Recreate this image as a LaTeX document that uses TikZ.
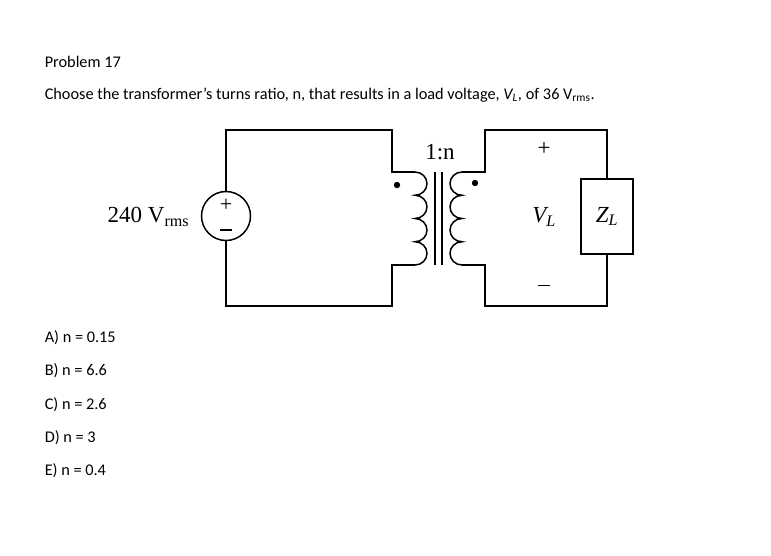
\documentclass[tikz,border=0pt]{standalone}
\usepackage{fontspec}
\setmainfont{Carlito}
\newfontfamily\tms{Liberation Serif}
\begin{document}
\begin{tikzpicture}[x=1pt,y=-1pt,line width=1.5pt,
  txt/.style={anchor=west,inner sep=0,font=\fontsize{16.3}{18}\selectfont},
  ctxt/.style={inner sep=0,font=\tms\fontsize{23}{25}\selectfont}]
\useasboundingbox[fill=white] (0,0) rectangle (771,555);
\node[txt] (t1) at (44,62) {Problem 17};
\node[txt] (t2) at (44,95) {Choose the transformer's turns ratio, n, that results in a load voltage, \textit{V\textsubscript{L}}, of 36 V\textsubscript{rms}.};
\node[txt] (a) at (44,338) {A) n = 0.15};
\node[txt] (b) at (44,371) {B) n = 6.6};
\node[txt] (c) at (44,405) {C) n = 2.6};
\node[txt] (d) at (44,438) {D) n = 3};
\node[txt] (e) at (44,471) {E) n = 0.4};
% source
\node[circle,draw,minimum size=49,inner sep=0] (src) at (226,216) {};
\node[inner sep=0,font=\tms\fontsize{22}{22}\selectfont] at (226,205) {+};
\draw[line width=1.2pt] (220,230) -- (232,230);
\node[ctxt,anchor=east] (vs) at (190,217) {240 V\textsubscript{rms}};
% primary
\draw (src.north) -- (226,130) -- (392,130) -- (392,172) -- (415,172);
\draw (src.south) -- (226,306) -- (392,306) -- (392,265) -- (415,265);
\draw (415,172) arc[start angle=-90,end angle=90,x radius=12,y radius=11.625]
  arc[start angle=-90,end angle=90,x radius=12,y radius=11.625]
  arc[start angle=-90,end angle=90,x radius=12,y radius=11.625]
  arc[start angle=-90,end angle=90,x radius=12,y radius=11.625];
% core
\draw[line width=1.2pt] (435,172) -- (435,265) (442,172) -- (442,265);
% secondary
\draw (462,172) arc[start angle=-90,end angle=-270,x radius=12,y radius=11.625]
  arc[start angle=-90,end angle=-270,x radius=12,y radius=11.625]
  arc[start angle=-90,end angle=-270,x radius=12,y radius=11.625]
  arc[start angle=-90,end angle=-270,x radius=12,y radius=11.625];
\node[draw,minimum width=52,minimum height=75,inner sep=0] (zl) at (607,216.5) {};
\node[ctxt] at (zl) {\textit{Z\textsubscript{L}}};
\draw (462,172) -- (485,172) -- (485,130) -- (607,130) -- (zl.north);
\draw (462,265) -- (485,265) -- (485,306) -- (607,306) -- (zl.south);
\fill (397,185) circle (3.2);
\fill (475,183) circle (3.2);
\node[ctxt] (ratio) at (440,152) {1:n};
\node[ctxt] (pl) at (544,149) {+};
\node[ctxt] (vl) at (544,217) {\textit{V\textsubscript{L}}};
\draw[line width=1pt] (538,285) -- (550,285);
\end{tikzpicture}
\end{document}
